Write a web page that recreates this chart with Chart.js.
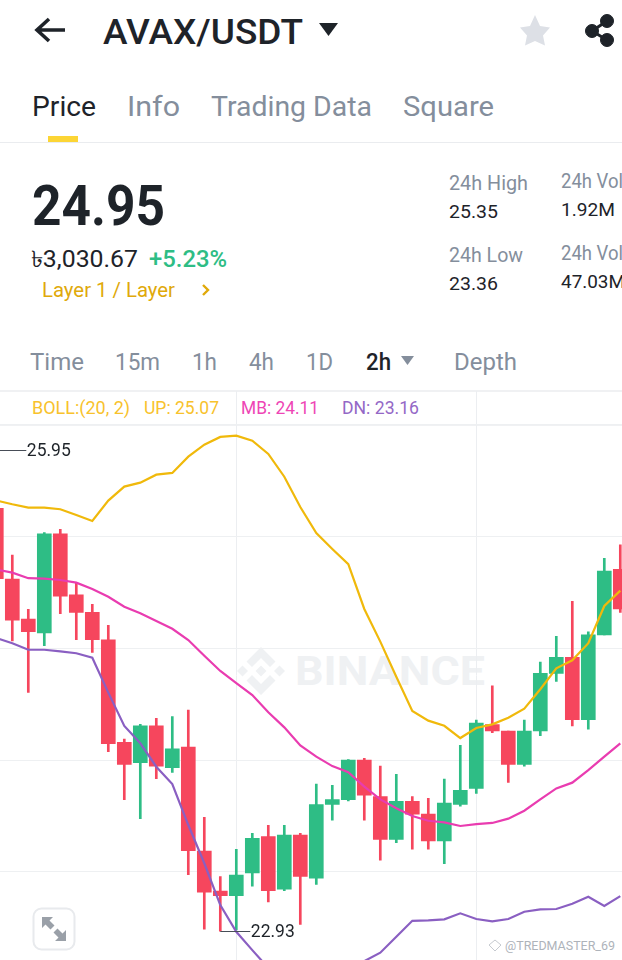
<!DOCTYPE html>
<html>
<head>
<meta charset="utf-8">
<script src="https://cdn.jsdelivr.net/npm/chart.js@4"></script>
<style>
html,body{margin:0;padding:0;background:#fff;width:622px;height:960px;overflow:hidden}
#ui{position:absolute;left:0;top:0}
#ui text{font-family:Roboto,"Noto Sans",sans-serif}
#wrap{position:absolute;left:-12px;top:391px;width:641px;height:569px}
</style>
</head>
<body>
<svg id="ui" width="622" height="960" viewBox="0 0 622 960">
  <!-- header -->
  <path d="M65 30H38M49 19L37 30L49 41" fill="none" stroke="#1E2329" stroke-width="3.6"/>
  <text x="103" y="44" font-size="35" font-weight="500" fill="#1E2329" textLength="200" lengthAdjust="spacingAndGlyphs">AVAX/USDT</text>
  <path d="M319 23H338L328.500 36Z" fill="#1E2329"/>
  <path d="M535 15L540 26L550 27.500L543 35.500L545 45.500L535 41L525 45.500L527 35.500L520 27.500L530 26Z" fill="#DDE0E6"/>
  <g fill="#1E2329" stroke="#1E2329"><circle cx="607" cy="21" r="6.500"/><circle cx="592" cy="31" r="6.500"/><circle cx="607" cy="40" r="6.500"/><path d="M607 21L592 31L607 40" fill="none" stroke-width="3"/></g>
  <!-- tabs -->
  <text x="32" y="116" font-size="27" fill="#1E2329" textLength="64" lengthAdjust="spacingAndGlyphs">Price</text>
  <text x="127" y="116" font-size="27" fill="#848E9C" textLength="53" lengthAdjust="spacingAndGlyphs">Info</text>
  <text x="211" y="116" font-size="27" fill="#848E9C" textLength="161" lengthAdjust="spacingAndGlyphs">Trading Data</text>
  <text x="403" y="116" font-size="27" fill="#848E9C" textLength="91" lengthAdjust="spacingAndGlyphs">Square</text>
  <rect x="48" y="136" width="30" height="6" fill="#FCD535"/>
  <rect x="0" y="142" width="622" height="1" fill="#EAECEF"/>
  <!-- price block -->
  <text x="32" y="225" font-size="56" font-weight="700" fill="#1E2329" textLength="133" lengthAdjust="spacingAndGlyphs">24.95</text>
  <text x="31" y="267" font-size="23" font-weight="400" fill="#1E2329" textLength="107" lengthAdjust="spacingAndGlyphs">৳3,030.67</text>
  <text x="149" y="267" font-size="23" font-weight="500" fill="#2EBD85" textLength="78" lengthAdjust="spacingAndGlyphs">+5.23%</text>
  <text x="42" y="297" font-size="21" fill="#E0A90A" textLength="133" lengthAdjust="spacingAndGlyphs">Layer 1 / Layer</text>
  <path d="M203 285L208 290L203 295" fill="none" stroke="#E0A90A" stroke-width="2.400"/>
  <!-- stats -->
  <text x="449" y="190" font-size="21" fill="#848E9C" textLength="79" lengthAdjust="spacingAndGlyphs">24h High</text>
  <text x="449" y="218" font-size="19" fill="#1E2329" textLength="49" lengthAdjust="spacingAndGlyphs">25.35</text>
  <text x="449" y="262" font-size="21" fill="#848E9C" textLength="74" lengthAdjust="spacingAndGlyphs">24h Low</text>
  <text x="449" y="290" font-size="19" fill="#1E2329" textLength="49" lengthAdjust="spacingAndGlyphs">23.36</text>
  <text x="561" y="188" font-size="21" fill="#848E9C" textLength="62" lengthAdjust="spacingAndGlyphs">24h Vol</text>
  <text x="561" y="216" font-size="19" fill="#1E2329" textLength="54" lengthAdjust="spacingAndGlyphs">1.92M</text>
  <text x="561" y="260" font-size="21" fill="#848E9C" textLength="62" lengthAdjust="spacingAndGlyphs">24h Vol</text>
  <text x="561" y="288" font-size="19" fill="#1E2329" textLength="64" lengthAdjust="spacingAndGlyphs">47.03M</text>
  <!-- intervals -->
  <text x="30" y="370" font-size="24" fill="#848E9C" textLength="54" lengthAdjust="spacingAndGlyphs">Time</text>
  <text x="115" y="370" font-size="24" fill="#848E9C" textLength="45" lengthAdjust="spacingAndGlyphs">15m</text>
  <text x="192" y="370" font-size="24" fill="#848E9C" textLength="25" lengthAdjust="spacingAndGlyphs">1h</text>
  <text x="249" y="370" font-size="24" fill="#848E9C" textLength="25" lengthAdjust="spacingAndGlyphs">4h</text>
  <text x="306" y="370" font-size="24" fill="#848E9C" textLength="27" lengthAdjust="spacingAndGlyphs">1D</text>
  <text x="366" y="370" font-size="24" font-weight="500" fill="#1E2329" textLength="25" lengthAdjust="spacingAndGlyphs">2h</text>
  <path d="M401 356H414L407.500 365Z" fill="#848E9C"/>
  <text x="454" y="370" font-size="24" fill="#848E9C" textLength="63" lengthAdjust="spacingAndGlyphs">Depth</text>
  <rect x="0" y="390" width="622" height="2" fill="#F0F1F3"/>
  <rect x="0" y="424" width="622" height="2" fill="#F0F1F3"/>
  <!-- BOLL legend -->
  <text x="32" y="414" font-size="18" fill="#F8C22C" textLength="98" lengthAdjust="spacingAndGlyphs">BOLL:(20, 2)</text>
  <text x="144" y="414" font-size="18" fill="#F8C22C" textLength="75" lengthAdjust="spacingAndGlyphs">UP: 25.07</text>
  <text x="241" y="414" font-size="18" fill="#EE45B5" textLength="78" lengthAdjust="spacingAndGlyphs">MB: 24.11</text>
  <text x="342" y="414" font-size="18" fill="#9468C6" textLength="77" lengthAdjust="spacingAndGlyphs">DN: 23.16</text>
  <!-- watermark -->
  <g transform="translate(261,671)" fill="#EFF1F3">
    <path d="M0-24L14.500-9.500L9-4L0-13L-9-4L-14.500-9.500Z"/>
    <path d="M0 24L14.500 9.500L9 4L0 13L-9 4L-14.500 9.500Z"/>
    <path d="M0-5.500L5.500 0L0 5.500L-5.500 0Z"/>
    <path d="M-24 0L-18.500-5.500L-13 0L-18.500 5.500Z"/>
    <path d="M24 0L18.500-5.500L13 0L18.500 5.500Z"/>
  </g>
  <text x="295" y="685" font-size="40" font-weight="700" fill="#EFF1F3" textLength="190" lengthAdjust="spacingAndGlyphs">BINANCE</text>
  <!-- expand button -->
  <rect x="33.500" y="908.500" width="41" height="41" rx="8" fill="#fff" stroke="#E8EAED" stroke-width="2"/>
  <g fill="#9AA0A8">
    <path d="M42 917H53L49.500 920.500L54.500 925.500L50.500 929.500L45.500 924.500L42 928Z"/>
    <path d="M66 941H55L58.500 937.500L53.500 932.500L57.500 928.500L62.500 933.500L66 930Z"/>
  </g>
  <!-- user tag -->
  <path d="M495 940L501 945L495 951L489 945Z" fill="none" stroke="#C6CAD0" stroke-width="1"/>
  <text x="505" y="950" font-size="13" fill="#AEB3BA" textLength="110" lengthAdjust="spacingAndGlyphs">@TREDMASTER_69</text>
</svg>
<div id="wrap"><canvas id="c" width="641" height="569" style="width:641px;height:569px;display:block"></canvas></div>
<script>
const opens  = [25.584,25.140,24.889,24.801,25.423,25.040,24.931,24.759,24.115,23.987,24.218,23.956,24.086,23.433,23.182,23.152,23.295,23.523,23.194,23.533,23.263,23.725,23.755,24.004,23.774,23.506,23.745,23.665,23.496,23.725,23.826,24.226,24.186,23.977,24.186,24.548,24.649,24.257,24.789,25.201];
const highs  = [25.600,25.291,24.950,25.431,25.452,25.120,24.981,24.850,24.136,24.228,24.266,24.276,24.318,23.644,23.272,23.444,23.544,23.594,23.594,23.544,23.853,23.845,24.007,24.015,23.966,23.914,23.774,23.764,23.885,24.096,24.255,24.469,24.186,24.255,24.619,24.781,25.000,24.809,25.270,25.354];
const lows   = [25.140,24.751,24.429,24.722,24.922,24.759,24.680,24.056,23.755,23.636,23.887,23.927,23.284,22.943,22.930,22.937,23.213,23.113,23.184,22.973,23.224,23.626,23.747,23.626,23.375,23.485,23.445,23.445,23.353,23.715,23.795,24.175,23.864,23.966,24.157,24.498,24.218,24.197,24.789,24.931];
const closes = [25.142,24.881,24.809,25.423,25.032,24.931,24.759,24.106,23.977,24.218,23.966,24.075,23.435,23.174,23.152,23.282,23.513,23.184,23.533,23.274,23.725,23.755,24.004,23.784,23.506,23.745,23.665,23.496,23.734,23.814,24.236,24.186,23.977,24.186,24.548,24.649,24.257,24.789,25.190,24.952];
const bollUp = [25.633,25.609,25.588,25.588,25.578,25.542,25.504,25.632,25.720,25.745,25.795,25.806,25.908,25.983,26.032,26.040,26.008,25.925,25.782,25.592,25.429,25.329,25.233,24.952,24.747,24.527,24.312,24.251,24.219,24.142,24.205,24.228,24.270,24.326,24.448,24.580,24.630,24.737,24.971,25.067];
const bollMb = [25.200,25.180,25.145,25.142,25.134,25.117,25.077,25.029,24.966,24.925,24.877,24.828,24.757,24.659,24.563,24.486,24.412,24.304,24.209,24.096,24.025,23.966,23.927,23.837,23.757,23.701,23.653,23.623,23.613,23.590,23.602,23.609,23.636,23.686,23.757,23.826,23.862,23.941,24.025,24.109];
const bollDn = [24.770,24.737,24.696,24.696,24.686,24.674,24.646,24.427,24.218,24.109,23.962,23.853,23.596,23.356,23.094,22.926,22.811,22.699,22.592,22.498,22.466,22.498,22.592,22.742,22.795,22.895,22.995,22.998,23.004,23.042,23.006,22.992,23.006,23.052,23.067,23.069,23.102,23.146,23.088,23.150];
const categories = opens.map((_, i) => String(i + 1));
const priceTicks = [26.107,25.407,24.705,24.004,23.304];
const gridCandles = [15,30];
const priceMax = 26.320, priceMin = 22.749;
const extremeHigh = {candle:0, price:25.95, label:'25.95'};
const extremeLow  = {candle:14, price:22.93, label:'22.93'};

const UP = '#2EBD85', DOWN = '#F6465D';
const candleColors = opens.map((o, i) => closes[i] >= o ? UP : DOWN);

const extremes = {
  id:'extremes',
  afterDatasetsDraw(chart){
    const {ctx, scales:{x,y}} = chart;
    ctx.save();
    ctx.font = '17.5px Roboto';
    ctx.textBaseline = 'middle';
    ctx.fillStyle = '#1E2329';
    ctx.strokeStyle = '#474D57';
    ctx.lineWidth = 1;
    const hy = Math.round(y.getPixelForValue(extremeHigh.price)) + .5;
    const hx = x.getPixelForValue(extremeHigh.candle);
    ctx.beginPath(); ctx.moveTo(hx, hy); ctx.lineTo(hx + 30, hy); ctx.stroke();
    ctx.fillText(extremeHigh.label, hx + 30.5, hy + 1);
    const ly = Math.round(y.getPixelForValue(extremeLow.price)) + .5;
    const lx = x.getPixelForValue(extremeLow.candle);
    ctx.beginPath(); ctx.moveTo(lx, ly); ctx.lineTo(lx + 30, ly); ctx.stroke();
    ctx.fillText(extremeLow.label, lx + 30.5, ly + 1);
    ctx.restore();
  }
};

function line(label, data, color){
  return {type:'line', label, data, borderColor:color, borderWidth:2.2, pointRadius:0, tension:0, order:1, fill:false};
}

new Chart(document.getElementById('c'), {
  type:'bar',
  data:{
    labels:categories,
    datasets:[
      {label:'Wick', data:lows.map((l,i)=>[l,highs[i]]), backgroundColor:candleColors, barThickness:2, grouped:false, order:3},
      {label:'Body', data:opens.map((o,i)=>[o,closes[i]]), backgroundColor:candleColors, barThickness:14, grouped:false, order:2},
      line('UP', bollUp, '#F0B90B'),
      line('MB', bollMb, '#E93CB0'),
      line('DN', bollDn, '#8A5FC2')
    ]
  },
  options:{
    responsive:false,
    animation:false,
    devicePixelRatio:1,
    layout:{padding:{left:.3,right:.7,top:0,bottom:0}},
    plugins:{legend:{display:false},tooltip:{enabled:false}},
    scales:{
      x:{
        offset:true,
        border:{display:false},
        ticks:{display:false,autoSkip:false},
        grid:{offset:false,drawTicks:false,color:c=>gridCandles.includes(c.index)?'#ECEEF1':'rgba(0,0,0,0)'}
      },
      y:{
        min:priceMin,max:priceMax,
        border:{display:false},
        ticks:{display:false},
        grid:{drawTicks:false,color:'#EEF0F2'},
        afterBuildTicks:a=>{a.ticks=priceTicks.map(v=>({value:v}));}
      }
    }
  },
  plugins:[extremes]
});
</script>
</body>
</html>
